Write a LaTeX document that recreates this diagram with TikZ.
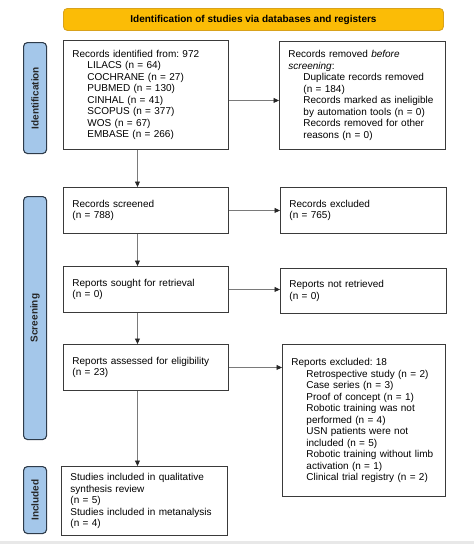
\documentclass[tikz,border=0pt]{standalone}
\usepackage{fontspec}
\setmainfont{Liberation Sans}
\usetikzlibrary{arrows.meta,calc}
\definecolor{banfill}{HTML}{FBBC06}
\definecolor{bandraw}{HTML}{D9A21B}
\definecolor{barfill}{HTML}{A4C7EA}
\definecolor{bardraw}{HTML}{2E3B4A}
\definecolor{boxdraw}{HTML}{3A3A3A}
\definecolor{linegray}{HTML}{7A7A7A}
\newcommand{\ind}{\hspace*{15pt}}
\frenchspacing
\begin{document}
\begin{tikzpicture}[x=1pt,y=-1pt,
  font=\fontsize{10}{11.5}\selectfont\frenchspacing,
  box/.style={draw=boxdraw,line width=0.9pt,anchor=north west,align=left,
    inner xsep=9pt,inner ysep=2pt,minimum height=#1},
  bar/.style={draw=bardraw,fill=barfill,line width=1.1pt,rounded corners=4pt,
    anchor=north west,minimum width=23pt,minimum height=#1,inner sep=0pt},
  arr/.style={draw=linegray,line width=0.9pt,-{Triangle[length=5.5pt,width=5pt,color=black!85]}}
]
\useasboundingbox (0,0) rectangle (474,544);
\fill[black!9] (0,541) rectangle (474,544);

\node[draw=bandraw,fill=banfill,line width=0.9pt,rounded corners=4pt,anchor=north west,
  minimum width=380pt,minimum height=22pt,inner sep=0pt,font=\fontsize{10}{11.5}\selectfont\bfseries]
  (ban) at (63,8) {Identification of studies via databases and registers};

\node[bar=111pt] (ident) at (23,42) {};
\node[rotate=90,font=\fontsize{10}{11.5}\selectfont\bfseries,text=black!85] (identt) at (ident.center) {Identification};
\node[bar=243pt] (scr) at (23,196) {};
\node[rotate=90,font=\fontsize{10}{11.5}\selectfont\bfseries,text=black!85] (scrt) at (scr.center) {Screening};
\node[bar=67pt] (inc) at (23,466) {};
\node[rotate=90,font=\fontsize{10}{11.5}\selectfont\bfseries,text=black!85] (inct) at (inc.center) {Included};

\node[box=109pt,text width=147pt] (b1) at (63,40) {Records identified from: 972\\
\ind LILACS (n = 64)\\
\ind COCHRANE (n = 27)\\
\ind PUBMED (n = 130)\\
\ind CINHAL (n = 41)\\
\ind SCOPUS (n = 377)\\
\ind WOS (n = 67)\\
\ind EMBASE (n = 266)};

\node[box=108pt,text width=148pt] (r1) at (279,41) {Records removed \textit{before}\\
\textit{screening}:\\
\ind Duplicate records removed\\
\ind (n = 184)\\
\ind Records marked as ineligible\\
\ind by automation tools (n = 0)\\
\ind Records removed for other\\
\ind reasons (n = 0)};

\node[box=46pt,text width=147pt] (b2) at (63,187) {Records screened\\(n = 788)};
\node[box=46pt,text width=148pt] (r2) at (280,187) {Records excluded\\(n = 765)};

\node[box=46pt,text width=147pt] (b3) at (63,266) {Reports sought for retrieval\\(n = 0)};
\node[box=45pt,text width=148pt] (r3) at (280,268) {Reports not retrieved\\(n = 0)};

\node[box=46pt,text width=147pt] (b4) at (63,344) {Reports assessed for eligibility\\(n = 23)};
\node[box=152pt,text width=145pt] (r4) at (282,344) {Reports excluded: 18\\
\ind Retrospective study (n = 2)\\
\ind Case series (n = 3)\\
\ind Proof of concept (n = 1)\\
\ind Robotic training was not\\
\ind performed (n = 4)\\
\ind USN patients were not\\
\ind included (n = 5)\\
\ind Robotic training without limb\\
\ind activation (n = 1)\\
\ind Clinical trial registry (n = 2)};

\node[box=69pt,text width=148pt] (b5) at (61,466) {Studies included in qualitative\\
synthesis review\\
(n = 5)\\
Studies included in metanalysis\\
(n = 4)};

\draw[arr] ([yshift=-5.5pt]b1.east) -- ([yshift=-5.5pt]b1.east -| r1.west);
\draw[arr] (b2.east) -- (b2.east -| r2.west);
\draw[arr] (b3.east) -- (b3.east -| r3.west);
\draw[arr] (b4.east) -- (b4.east -| r4.west);

\draw[arr] ([xshift=-8.5pt]b1.south) -- ([xshift=-8.5pt]b1.south |- b2.north);
\draw[arr] ([xshift=-8.5pt]b2.south) -- ([xshift=-8.5pt]b2.south |- b3.north);
\draw[arr] ([xshift=-8.5pt]b3.south) -- ([xshift=-8.5pt]b3.south |- b4.north);
\draw[arr] ([xshift=-8.5pt]b4.south) -- ([xshift=-8.5pt]b4.south |- b5.north);
\end{tikzpicture}
\end{document}
